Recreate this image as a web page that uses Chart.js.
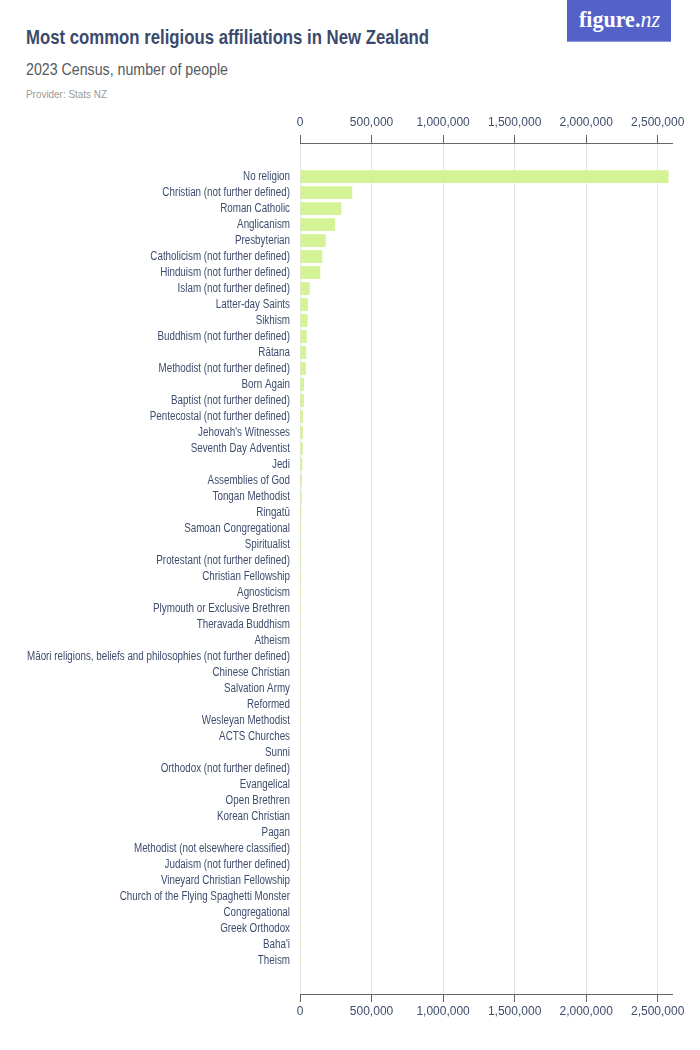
<!DOCTYPE html>
<html>
<head>
<meta charset="utf-8">
<script src="https://cdn.jsdelivr.net/npm/chart.js@4/dist/chart.umd.min.js"></script>
<style>
  body { margin: 0; width: 700px; height: 1050px; background: #fff; position: relative; overflow: hidden; }
  .fit { position: absolute; white-space: nowrap; transform-origin: 0 0; }
  .title { left: 26px; top: 26px; font: bold 21px/21px "Liberation Sans", sans-serif; color: #3b4a6c; }
  .subtitle { left: 26px; top: 61.5px; font: 16px/16px "Liberation Sans", sans-serif; color: #555a60; }
  .provider { left: 26px; top: 89px; font: 11.5px/11.5px "Liberation Sans", sans-serif; color: #9a9a9a; }
  .logo { position: absolute; left: 567px; top: 0; width: 104px; height: 41px; background: #5461c8; border-bottom: 1px solid #8f98dc; }
  .logotext { left: 579px; top: 8px; font: bold 23px/23px "Liberation Serif", serif; color: #fff; }
  .logotext i { font-weight: normal; }
  #wrap { position: absolute; left: 0; top: 100px; width: 700px; height: 930px; }
</style>
</head>
<body>
<div class="fit title" data-w="403">Most common religious affiliations in New Zealand</div>
<div class="fit subtitle" data-w="202">2023 Census, number of people</div>
<div class="fit provider" data-w="81">Provider: Stats NZ</div>
<div class="logo"></div>
<div class="fit logotext" data-w="81">figure.<i>nz</i></div>
<div id="wrap"><canvas id="chart" width="700" height="930"></canvas></div>
<script>
// Kategorien (von oben nach unten)
const religions = [
  'No religion', 'Christian (not further defined)', 'Roman Catholic', 'Anglicanism', 'Presbyterian',
  'Catholicism (not further defined)', 'Hinduism (not further defined)', 'Islam (not further defined)',
  'Latter-day Saints', 'Sikhism', 'Buddhism (not further defined)', 'Rātana', 'Methodist (not further defined)',
  'Born Again', 'Baptist (not further defined)', 'Pentecostal (not further defined)', "Jehovah's Witnesses",
  'Seventh Day Adventist', 'Jedi', 'Assemblies of God', 'Tongan Methodist', 'Ringatū', 'Samoan Congregational',
  'Spiritualist', 'Protestant (not further defined)', 'Christian Fellowship', 'Agnosticism',
  'Plymouth or Exclusive Brethren', 'Theravada Buddhism', 'Atheism',
  'Māori religions, beliefs and philosophies (not further defined)', 'Chinese Christian', 'Salvation Army',
  'Reformed', 'Wesleyan Methodist', 'ACTS Churches', 'Sunni', 'Orthodox (not further defined)', 'Evangelical',
  'Open Brethren', 'Korean Christian', 'Pagan', 'Methodist (not elsewhere classified)',
  'Judaism (not further defined)', 'Vineyard Christian Fellowship', 'Church of the Flying Spaghetti Monster',
  'Congregational', 'Greek Orthodox', "Baha'i", 'Theism'
];

// Anzahl Personen (aus dem Bild geschätzt)
const people = [
  2576000, 365000, 290000, 245000, 180000,
  156000, 142000, 68000,
  55000, 53000, 47000, 43000, 41000,
  28000, 27000, 21000, 20000,
  19000, 17000, 14000, 12000, 10000, 9000,
  8200, 7800, 7200, 6800,
  6400, 6000, 5600,
  5200, 4800, 4500,
  4200, 4000, 3800, 3600, 3400, 3200,
  3000, 2800, 2600, 2500,
  2400, 2200, 2100,
  2000, 1900, 1800, 1700
];

const axisTicks = [0, 500000, 1000000, 1500000, 2000000, 2500000];
const axisMax = 2600000;

// Texte schmal ziehen (Original nutzt eine Condensed-Schrift)
document.querySelectorAll('.fit').forEach(el => {
  const w = el.getBoundingClientRect().width;
  el.style.transform = 'scaleX(' + (parseFloat(el.dataset.w) / w) + ')';
});

const textColor = '#3e4c6d';
const tickFont = { family: 'Liberation Sans', size: 12 };
const labelFont = { family: 'Liberation Sans', size: 12 };
const labelWidth = 263; // Breite des längsten Labels im Original

function xAxis(position, onChart, height) {
  return {
    type: 'linear',
    position: position,
    min: 0,
    max: axisMax,
    afterBuildTicks: scale => { scale.ticks = axisTicks.map(v => ({ value: v })); },
    afterFit: scale => { scale.height = height; },
    ticks: {
      color: textColor,
      font: tickFont,
      padding: position === 'top' ? 5 : 2,
      maxRotation: 0,
      callback: v => v.toLocaleString('en-US')
    },
    grid: {
      drawOnChartArea: onChart,
      color: '#e3e3e3',
      tickColor: '#666',
      tickLength: 8
    },
    border: { color: '#666', width: 1 }
  };
}

// y-Labels horizontal stauchen
const narrowLabels = {
  id: 'narrowLabels',
  afterLayout(chart) {
    const scale = chart.scales.y;
    if (scale._narrowed) return;
    scale._narrowed = true;
    scale._computeLabelArea = () => undefined; // kein Clipping
    const orig = scale.drawLabels.bind(scale);
    scale.drawLabels = area => {
      const ctx = chart.ctx;
      ctx.save();
      ctx.font = labelFont.size + 'px "' + labelFont.family + '"';
      const longest = Math.max(...religions.map(r => ctx.measureText(r).width));
      const k = labelWidth / longest;
      const x0 = scale.right - scale.options.ticks.padding;
      ctx.translate(x0, 0);
      ctx.scale(k, 1);
      ctx.translate(-x0, 0);
      orig(area);
      ctx.restore();
    };
  }
};

const padCats = 1.6; // Leerraum oben/unten in Kategorien

new Chart(document.getElementById('chart').getContext('2d'), {
  type: 'bar',
  data: {
    labels: religions,
    datasets: [{
      data: people,
      backgroundColor: '#d4f296',
      barPercentage: 0.8,
      categoryPercentage: 1.0,
      xAxisID: 'x',
      yAxisID: 'y'
    }]
  },
  options: {
    indexAxis: 'y',
    responsive: false,
    animation: false,
    devicePixelRatio: 1,
    layout: { padding: { left: 0, right: 28, top: 0, bottom: 0 } },
    plugins: { legend: { display: false }, tooltip: { enabled: false } },
    scales: {
      x: xAxis('top', true, 43),
      x2: xAxis('bottom', false, 36),
      y: {
        type: 'category',
        afterFit: scale => { scale.width = 300; },
        afterBuildTicks: scale => {
          scale._startValue = -0.5 - padCats;
          scale._valueRange = religions.length + 2 * padCats;
        },
        ticks: {
          color: textColor,
          font: labelFont,
          padding: 10,
          autoSkip: false
        },
        grid: { display: false, drawTicks: false },
        border: { display: false }
      }
    }
  },
  plugins: [narrowLabels]
});
</script>
</body>
</html>
